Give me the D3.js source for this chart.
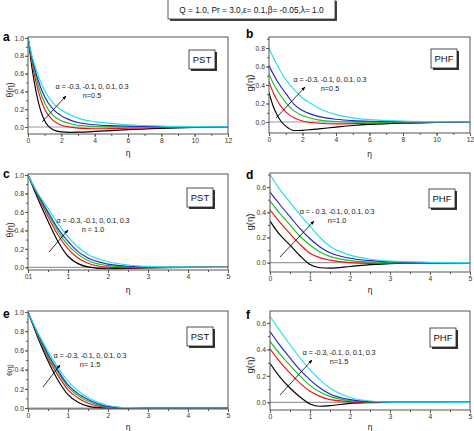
<!DOCTYPE html>
<html><head><meta charset="utf-8">
<script src="https://cdn.jsdelivr.net/npm/d3@7"></script>
<style>
html,body{margin:0;padding:0;background:#fff;}
svg{display:block;}
text{font-family:"Liberation Sans",Arial,sans-serif;}
</style></head>
<body>
<svg id="chart" width="474" height="431"></svg>
<script>
// ---------- DATA ----------
const alphaValues = ["-0.3", "-0.1", "0", "0.1", "0.3"];
const titleText = "Q = 1.0, Pr = 3.0,\u03b5= 0.1,\u03b2= -0.05,\u03bb= 1.0";
const panelLetters = ["a", "b", "c", "d", "e", "f"];

// Panel a : theta(eta), PST, n = 0.5
const etaA = [0, 0.25, 0.5, 0.75, 1, 1.5, 2, 2.5, 3, 4, 5, 6, 8, 10, 12];
const aM03 = [1, 0.65, 0.38, 0.19, 0.07, -0.03, -0.055, -0.06, -0.058, -0.05, -0.04, -0.03, -0.016, -0.006, 0];
const aM01 = [1, 0.72, 0.49, 0.32, 0.20, 0.075, 0.02, 0, -0.012, -0.02, -0.018, -0.014, -0.008, -0.003, 0];
const aZ   = [1, 0.75, 0.55, 0.39, 0.27, 0.13, 0.07, 0.04, 0.02, 0.006, 0.001, -0.002, -0.003, -0.001, 0];
const aP01 = [1, 0.77, 0.59, 0.45, 0.34, 0.20, 0.125, 0.08, 0.05, 0.025, 0.015, 0.01, 0.004, 0.002, 0];
const aP03 = [1, 0.79, 0.64, 0.51, 0.41, 0.27, 0.19, 0.14, 0.10, 0.06, 0.04, 0.025, 0.01, 0.004, 0.001];

// Panel b : g(eta), PHF, n = 0.5
const etaB = [0, 0.25, 0.5, 0.75, 1, 1.5, 2, 2.5, 3, 4, 5, 6, 8, 10, 12];
const bM03 = [0.32, 0.17, 0.07, 0.0, -0.045, -0.092, -0.09, -0.083, -0.074, -0.055, -0.038, -0.026, -0.012, -0.005, 0];
const bM01 = [0.43, 0.32, 0.23, 0.16, 0.11, 0.045, 0.01, -0.006, -0.014, -0.02, -0.018, -0.014, -0.008, -0.003, 0];
const bZ   = [0.52, 0.42, 0.34, 0.27, 0.21, 0.12, 0.07, 0.04, 0.02, 0.005, 0, -0.003, -0.003, -0.001, 0];
const bP01 = [0.61, 0.52, 0.44, 0.37, 0.31, 0.19, 0.125, 0.085, 0.058, 0.03, 0.015, 0.008, 0.003, 0.001, 0];
const bP03 = [0.80, 0.70, 0.61, 0.53, 0.46, 0.35, 0.26, 0.20, 0.145, 0.08, 0.045, 0.025, 0.01, 0.004, 0.002];

// Panel c : theta(eta), PST, n = 1.0
const etaC = [0, 0.25, 0.5, 0.75, 1, 1.25, 1.5, 2, 2.5, 3, 4, 5];
const cM03 = [1, 0.74, 0.50, 0.28, 0.12, 0.04, 0.005, -0.015, -0.012, -0.006, -0.001, 0];
const cM01 = [1, 0.77, 0.55, 0.35, 0.20, 0.10, 0.045, 0.002, -0.005, -0.003, 0, 0];
const cZ   = [1, 0.78, 0.58, 0.39, 0.24, 0.14, 0.075, 0.018, 0.004, 0, 0, 0];
const cP01 = [1, 0.79, 0.60, 0.42, 0.28, 0.17, 0.10, 0.035, 0.012, 0.004, 0.001, 0];
const cP03 = [1, 0.80, 0.64, 0.47, 0.33, 0.22, 0.14, 0.06, 0.025, 0.01, 0.002, 0];

// Panel d : g(eta), PHF, n = 1.0
const etaD = [0, 0.25, 0.5, 0.75, 1, 1.25, 1.5, 2, 2.5, 3, 4, 5];
const dM03 = [0.33, 0.22, 0.14, 0.055, -0.015, -0.04, -0.043, -0.03, -0.015, -0.008, -0.002, 0];
const dM01 = [0.42, 0.32, 0.23, 0.145, 0.075, 0.04, 0.02, 0, -0.005, -0.004, -0.001, 0];
const dZ   = [0.49, 0.39, 0.30, 0.21, 0.14, 0.085, 0.05, 0.016, 0.005, 0.001, 0, 0];
const dP01 = [0.56, 0.46, 0.365, 0.27, 0.19, 0.125, 0.078, 0.035, 0.016, 0.007, 0.001, 0];
const dP03 = [0.70, 0.58, 0.48, 0.38, 0.29, 0.20, 0.13, 0.06, 0.027, 0.012, 0.003, 0];

// Panel e : theta(eta), PST, n = 1.5
const etaE = [0, 0.25, 0.5, 0.75, 1, 1.25, 1.5, 1.75, 2, 2.5, 3, 5];
const eM03 = [1, 0.73, 0.49, 0.29, 0.14, 0.06, 0.02, 0.004, 0, 0, 0, 0];
const eM01 = [1, 0.75, 0.52, 0.34, 0.19, 0.105, 0.05, 0.02, 0.006, 0, 0, 0];
const eZ   = [1, 0.76, 0.54, 0.37, 0.22, 0.13, 0.07, 0.033, 0.01, 0.001, 0, 0];
const eP01 = [1, 0.77, 0.56, 0.39, 0.24, 0.15, 0.09, 0.045, 0.017, 0.002, 0, 0];
const eP03 = [1, 0.78, 0.59, 0.42, 0.28, 0.18, 0.11, 0.06, 0.027, 0.004, 0, 0];

// Panel f : g(eta), PHF, n = 1.5
const etaF = [0, 0.25, 0.5, 0.75, 1, 1.25, 1.5, 2, 2.5, 3, 5];
const fM03 = [0.295, 0.19, 0.108, 0.04, -0.012, -0.03, -0.025, -0.008, -0.002, 0, 0];
const fM01 = [0.405, 0.305, 0.22, 0.145, 0.083, 0.045, 0.02, 0.005, 0.001, 0, 0];
const fZ   = [0.46, 0.365, 0.28, 0.20, 0.128, 0.078, 0.045, 0.012, 0.003, 0, 0];
const fP01 = [0.535, 0.43, 0.335, 0.245, 0.17, 0.108, 0.063, 0.02, 0.005, 0.001, 0];
const fP03 = [0.65, 0.54, 0.435, 0.335, 0.245, 0.17, 0.108, 0.037, 0.01, 0.002, 0];

const xTicks12 = [0, 2, 4, 6, 8, 10, 12];
const xTicks5 = [0, 1, 2, 3, 4, 5];
const xTickLabels5c = ["01", "1", "2", "3", "4", "5"];
const yTicks10 = [0, 0.2, 0.4, 0.6, 0.8, 1.0];
const yTicks08 = [0, 0.2, 0.4, 0.6, 0.8];
const yTicks06 = [0, 0.2, 0.4, 0.6];

// ---------- STYLE ----------
const colors = ["#000000", "#e8141b", "#1fbf1f", "#2424c8", "#22e0ea"];
const svg = d3.select("#chart");
const defs = svg.append("defs");
defs.append("marker").attr("id", "arr").attr("viewBox", "0 0 10 10")
  .attr("refX", 9).attr("refY", 5).attr("markerWidth", 5).attr("markerHeight", 5)
  .attr("orient", "auto").append("path").attr("d", "M0,1 L10,5 L0,9 Z").attr("fill", "#000");

// Title box
svg.append("rect").attr("x", 170).attr("y", 1).attr("width", 167).attr("height", 20).attr("fill", "#444");
svg.append("rect").attr("x", 168).attr("y", -1).attr("width", 167).attr("height", 20)
  .attr("fill", "#fff").attr("stroke", "#333").attr("stroke-width", 0.8);
svg.append("text").attr("x", 251.5).attr("y", 12.5).attr("text-anchor", "middle")
  .attr("font-size", 8.3).attr("fill", "#111").text(titleText);

const panels = [
  {eta: etaA, s: [aM03, aM01, aZ, aP01, aP03], L: 28, R: 228, T: 37, B: 134, xmax: 12, ydom: [-0.0787, 1.011],
   xt: xTicks12, xminor: 1, yt: yTicks10, ylab: "\u03b8(\u03b7)", ylx: 10, yly: 90, ylfs: 8.5,
   box: "PST", bx: 189, by: 50, lx: 3, ly: 41, xly: 156,
   ann: "\u03b1 = -0.3, -0.1, 0, 0.1, 0.3", ax: 92, ay: 89, n: "n=0.5", ny: 98, arr: [42, 122, 66, 96]},
  {eta: etaB, s: [bM03, bM01, bZ, bP01, bP03], L: 269, R: 470, T: 37, B: 133, xmax: 12, ydom: [-0.119, 0.919],
   xt: xTicks12, xminor: 1, yt: yTicks08, ylab: "g(\u03b7)", ylx: 250, yly: 83, ylfs: 9.5,
   box: "PHF", bx: 431, by: 49, lx: 246, ly: 38, xly: 157,
   ann: "\u03b1 = -0.3, -0.1, 0, 0.1, 0.3", ax: 330, ay: 82, n: "n=0.5", ny: 91, arr: [276, 118, 305, 87]},
  {eta: etaC, s: [cM03, cM01, cZ, cP01, cP03], L: 28, R: 228, T: 174, B: 270, xmax: 5, ydom: [-0.029, 1.011],
   xt: xTicks5, xlabels: xTickLabels5c, xminor: 0.5, yt: yTicks10, ylab: "\u03b8(\u03b7)", ylx: 10, yly: 230, ylfs: 8.5,
   box: "PST", bx: 187, by: 188, lx: 3, ly: 178, xly: 293,
   ann: "\u03b1 = -0.3, -0.1, 0, 0.1, 0.3", ax: 93, ay: 223, n: "n = 1.0", ny: 232, arr: [49, 252, 68, 230]},
  {eta: etaD, s: [dM03, dM01, dZ, dP01, dP03], L: 270, R: 470, T: 173, B: 272, xmax: 5, ydom: [-0.074, 0.712],
   xt: xTicks5, xminor: 0.5, yt: yTicks06, ylab: "g(\u03b7)", ylx: 250, yly: 222, ylfs: 9.5,
   box: "PHF", bx: 429, by: 189, lx: 246, ly: 179, xly: 293,
   ann: "\u03b1 = - 0.3, -0.1, 0, 0.1, 0.3", ax: 337, ay: 214, n: "n=1.0", ny: 223, arr: [280, 257, 314, 221]},
  {eta: etaE, s: [eM03, eM01, eZ, eP01, eP03], L: 28, R: 228, T: 311, B: 409, xmax: 5, ydom: [-0.01, 1.0103],
   xt: xTicks5, xminor: 0.5, yt: yTicks10, ylab: "\u03b8(\u03b7)", ylx: 10, yly: 370, ylfs: 6.5,
   box: "PST", bx: 187, by: 327, lx: 3, ly: 318, xly: 430,
   ann: "\u03b1 = -0.3, -0.1, 0, 0.1, 0.3", ax: 90, ay: 358, n: "n= 1.5", ny: 367, arr: [43, 387, 60, 365]},
  {eta: etaF, s: [fM03, fM01, fZ, fP01, fP03], L: 270, R: 470, T: 311, B: 410, xmax: 5, ydom: [-0.058, 0.69],
   xt: xTicks5, xminor: 0.5, yt: yTicks06, ylab: "g(\u03b7)", ylx: 250, yly: 365, ylfs: 9.5,
   box: "PHF", bx: 430, by: 328, lx: 246, ly: 319, xly: 430,
   ann: "\u03b1 = -0.3, -0.1, 0, 0.1, 0.3", ax: 339, ay: 355, n: "n=1.5", ny: 364, arr: [280, 395, 312, 360]}
];

panels.forEach((p, i) => {
  const g = svg.append("g");
  const x = d3.scaleLinear().domain([0, p.xmax]).range([p.L, p.R]);
  const y = d3.scaleLinear().domain(p.ydom).range([p.B, p.T]);

  // minor ticks
  const xMinor = d3.range(0, p.xmax + 1e-9, p.xminor);
  const yMinor = d3.range(0, p.ydom[1] - 1e-9, 0.1);
  g.append("g").attr("transform", `translate(0,${p.B})`)
    .call(d3.axisBottom(x).tickValues(xMinor).tickSize(2).tickFormat(""))
    .call(a => a.select(".domain").remove()).selectAll("line").attr("stroke", "#555");
  g.append("g").attr("transform", `translate(${p.L},0)`)
    .call(d3.axisLeft(y).tickValues(yMinor).tickSize(2).tickFormat(""))
    .call(a => a.select(".domain").remove()).selectAll("line").attr("stroke", "#555");

  // major ticks
  const xa = g.append("g").attr("transform", `translate(0,${p.B})`)
    .call(d3.axisBottom(x).tickValues(p.xt).tickSize(3).tickPadding(1)
      .tickFormat((d, k) => p.xlabels ? p.xlabels[k] : d3.format("d")(d)));
  xa.select(".domain").remove();
  xa.selectAll("line").attr("stroke", "#555");
  xa.selectAll("text").attr("font-size", 6.8).attr("fill", "#333")
    .attr("font-family", "Liberation Sans, Arial, sans-serif");
  const ya = g.append("g").attr("transform", `translate(${p.L},0)`)
    .call(d3.axisLeft(y).tickValues(p.yt).tickSize(3).tickPadding(1).tickFormat(d3.format(".1f")));
  ya.select(".domain").remove();
  ya.selectAll("line").attr("stroke", "#555");
  ya.selectAll("text").attr("font-size", 6.8).attr("fill", "#333")
    .attr("font-family", "Liberation Sans, Arial, sans-serif");

  // clip
  const cid = "clip" + i;
  defs.append("clipPath").attr("id", cid).append("rect")
    .attr("x", p.L).attr("y", p.T).attr("width", p.R - p.L).attr("height", p.B - p.T);
  const plot = g.append("g").attr("clip-path", `url(#${cid})`);

  // zero line
  plot.append("line").attr("x1", p.L).attr("x2", p.R).attr("y1", y(0)).attr("y2", y(0))
    .attr("stroke", "#9a9a9a").attr("stroke-width", 1.2);

  const line = d3.line().x((d, k) => x(p.eta[k])).y(d => y(d)).curve(d3.curveMonotoneX);
  p.s.forEach((vals, k) => {
    plot.append("path").datum(vals).attr("d", line).attr("fill", "none")
      .attr("stroke", colors[k]).attr("stroke-width", 1.15);
  });

  // frame
  g.append("rect").attr("x", p.L).attr("y", p.T).attr("width", p.R - p.L).attr("height", p.B - p.T)
    .attr("fill", "none").attr("stroke", "#555").attr("stroke-width", 1);

  // labels
  svg.append("text").attr("x", p.lx).attr("y", p.ly).attr("font-size", 12).attr("font-weight", "bold")
    .attr("fill", "#000").text(panelLetters[i]);
  svg.append("text").attr("transform", `translate(${p.ylx},${p.yly}) rotate(-90)`)
    .attr("text-anchor", "middle").attr("dy", "0.35em").attr("font-size", p.ylfs).attr("fill", "#222").text(p.ylab);
  svg.append("text").attr("x", (p.L + p.R) / 2).attr("y", p.xly).attr("text-anchor", "middle")
    .attr("font-size", 8.5).attr("fill", "#222").text("\u03b7");

  // PST / PHF box
  svg.append("rect").attr("x", p.bx + 2).attr("y", p.by + 2).attr("width", 26).attr("height", 19).attr("fill", "#333");
  svg.append("rect").attr("x", p.bx).attr("y", p.by).attr("width", 26).attr("height", 19)
    .attr("fill", "#fff").attr("stroke", "#222").attr("stroke-width", 0.8);
  svg.append("text").attr("x", p.bx + 13).attr("y", p.by + 13.3).attr("text-anchor", "middle")
    .attr("font-size", 9.5).attr("fill", "#111").text(p.box);

  // annotation
  svg.append("text").attr("x", p.ax).attr("y", p.ay).attr("text-anchor", "middle")
    .attr("font-size", 7.3).attr("letter-spacing", -0.2).attr("fill", "#1a1a1a").text(p.ann);
  svg.append("text").attr("x", p.ax).attr("y", p.ny).attr("text-anchor", "middle")
    .attr("font-size", 7.3).attr("fill", "#1a1a1a").text(p.n);
  svg.append("line").attr("x1", p.arr[0]).attr("y1", p.arr[1]).attr("x2", p.arr[2]).attr("y2", p.arr[3])
    .attr("stroke", "#000").attr("stroke-width", 0.8).attr("marker-end", "url(#arr)");
});
</script>
</body></html>
